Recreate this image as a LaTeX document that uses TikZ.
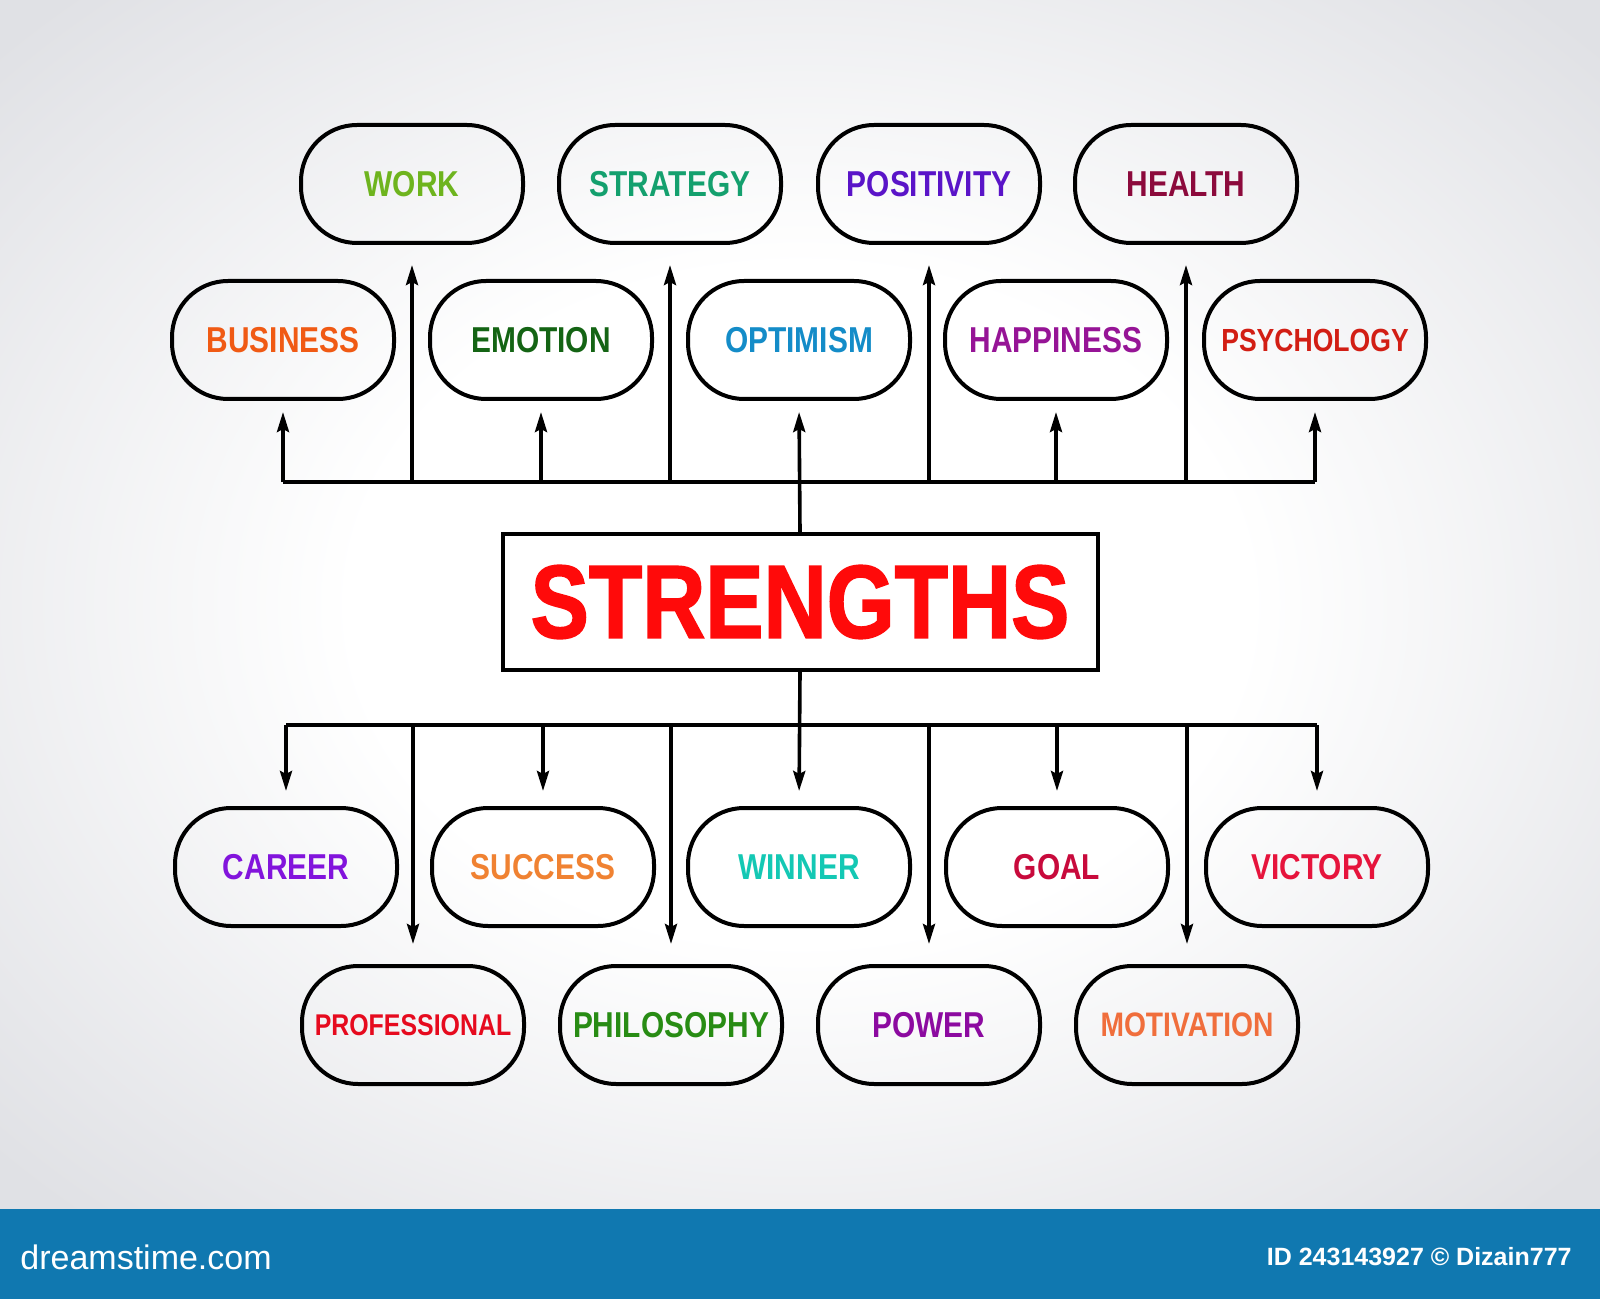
\documentclass[tikz,border=0pt]{standalone}
\usepackage{fontspec}
\setmainfont{Liberation Sans}
\newfontfamily\lblfont[FakeStretch=0.83]{Liberation Sans}
\newfontfamily\bigfont[FakeStretch=0.84,FakeBold=1.5]{Liberation Sans}
\newfontfamily\footfont{Liberation Sans}
\usetikzlibrary{arrows.meta}
\definecolor{bgedge}{RGB}{224,225,229}
\definecolor{footblue}{RGB}{16,120,176}
\definecolor{cWork}{RGB}{110,180,30}
\definecolor{cStrategy}{RGB}{20,160,110}
\definecolor{cPositivity}{RGB}{90,20,200}
\definecolor{cHealth}{RGB}{140,10,60}
\definecolor{cBusiness}{RGB}{240,90,20}
\definecolor{cEmotion}{RGB}{20,100,20}
\definecolor{cOptimism}{RGB}{20,140,200}
\definecolor{cHappiness}{RGB}{150,20,150}
\definecolor{cPsychology}{RGB}{210,30,20}
\definecolor{cCareer}{RGB}{130,20,220}
\definecolor{cSuccess}{RGB}{240,130,50}
\definecolor{cWinner}{RGB}{20,200,180}
\definecolor{cGoal}{RGB}{200,10,60}
\definecolor{cVictory}{RGB}{230,20,60}
\definecolor{cProfessional}{RGB}{230,10,30}
\definecolor{cPhilosophy}{RGB}{40,140,20}
\definecolor{cPower}{RGB}{140,10,160}
\definecolor{cMotivation}{RGB}{240,110,60}
\definecolor{cStrengths}{RGB}{255,10,10}
\pgfdeclareradialshading{bgshade}{\pgfpoint{0bp}{0bp}}{color(0bp)=(white); color(14bp)=(white); color(34bp)=(bgedge); color(50bp)=(bgedge)}
\begin{document}
\begin{tikzpicture}[x=0.5pt,y=-0.5pt,
  pill/.style={draw=black,line width=2pt,rounded corners=28pt,minimum width=111pt,minimum height=59pt,inner sep=0pt,text depth=-2pt,font=\lblfont\bfseries\fontsize{18}{20}\selectfont},
  conn/.style={line width=1.8pt,draw=black},
  arr/.style={conn,-{Stealth[length=10pt,width=6pt,inset=1.5pt]}}]
\useasboundingbox (0,0) rectangle (1600,1299);
\shade[shading=bgshade] (0,0) rectangle (1600,1209);
\fill[footblue] (0,1209) rectangle (1600,1299);

% top rows
\node[pill,text=cWork] (work) at (412,184) {WORK};
\node[pill,text=cStrategy] (strategy) at (670,184) {STRATEGY};
\node[pill,text=cPositivity] (positivity) at (929,184) {POSITIVITY};
\node[pill,text=cHealth] (health) at (1186,184) {HEALTH};
\node[pill,text=cBusiness] (business) at (283,340) {BUSINESS};
\node[pill,text=cEmotion] (emotion) at (541,340) {EMOTION};
\node[pill,text=cOptimism] (optimism) at (799,340) {OPTIMISM};
\node[pill,text=cHappiness] (happiness) at (1056,340) {HAPPINESS};
\node[pill,text=cPsychology,font=\lblfont\bfseries\fontsize{16}{18}\selectfont] (psychology) at (1315,340) {PSYCHOLOGY};

% center
\node[draw=black,line width=2pt,minimum width=297.5pt,minimum height=68pt,inner sep=0pt,text=cStrengths,font=\bigfont\bfseries\fontsize{52}{56}\selectfont] (strengths) at (800,602) {STRENGTHS};

% bottom rows
\node[pill,text=cCareer] (career) at (286,867) {CAREER};
\node[pill,text=cSuccess] (success) at (543,867) {SUCCESS};
\node[pill,text=cWinner] (winner) at (799,867) {WINNER};
\node[pill,text=cGoal] (goal) at (1057,867) {GOAL};
\node[pill,text=cVictory] (victory) at (1317,867) {VICTORY};
\node[pill,text=cProfessional,font=\lblfont\bfseries\fontsize{15}{17}\selectfont] (professional) at (413,1025) {PROFESSIONAL};
\node[pill,text=cPhilosophy] (philosophy) at (671,1025) {PHILOSOPHY};
\node[pill,text=cPower] (power) at (929,1025) {POWER};
\node[pill,text=cMotivation,font=\lblfont\bfseries\fontsize{17}{19}\selectfont] (motivation) at (1187,1025) {MOTIVATION};

% buses
\coordinate (tb) at (799,482);
\coordinate (bb) at (799,725);
\draw[conn] (business.south |- tb) -- (psychology.south |- tb);
\draw[conn] (career.north |- bb) -- (victory.north |- bb);

% upward connectors
\draw[arr,shorten >=5.5pt] (strengths.north) -- (optimism.south);
\foreach \n in {business,emotion,happiness,psychology}
  \draw[arr,shorten >=5.5pt] (\n.south |- tb) -- (\n.south);
\foreach \n in {work,strategy,positivity,health}
  \draw[arr,shorten >=10pt] (\n.south |- tb) -- (\n.south);

% downward connectors
\draw[arr,shorten >=7.5pt] (strengths.south) -- (winner.north);
\foreach \n in {career,success,goal,victory}
  \draw[arr,shorten >=7.5pt] (\n.north |- bb) -- (\n.north);
\foreach \n in {professional,philosophy,power,motivation}
  \draw[arr,shorten >=10pt] (\n.north |- bb) -- (\n.north);

% footer
\node[anchor=west,text=white,inner sep=0pt,font=\footfont\fontsize{17}{19}\selectfont] (logo) at (20,1257) {dreamstime.com};
\node[anchor=east,text=white,inner sep=0pt,font=\footfont\bfseries\fontsize{12.5}{14}\selectfont] (credit) at (1572,1257) {ID 243143927 © Dizain777};
\end{tikzpicture}
\end{document}
